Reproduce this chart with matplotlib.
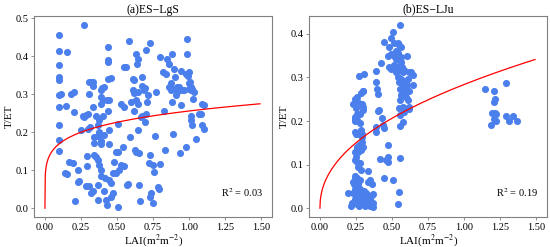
import numpy as np
import matplotlib
matplotlib.use("Agg")
from matplotlib import pyplot as plt

# (a) ES-LgS : LAI vs T/ET
lai_a = [0.10, 0.10, 0.10, 0.10, 0.10, 0.10, 0.10, 0.10, 0.10, 0.10,
         0.113, 0.15, 0.147, 0.136, 0.152, 0.182, 0.20, 0.20, 0.17, 0.193,
         0.209, 0.228, 0.239, 0.232, 0.251, 0.262, 0.274, 0.274, 0.292, 0.292,
         0.301, 0.285, 0.308, 0.320, 0.308, 0.308, 0.285, 0.315, 0.301, 0.331,
         0.331, 0.336, 0.320, 0.331, 0.343, 0.343, 0.343, 0.354, 0.354, 0.366,
         0.377, 0.366, 0.370, 0.389, 0.389, 0.389, 0.377, 0.366, 0.377, 0.370,
         0.389, 0.389, 0.389, 0.389, 0.396, 0.407, 0.400, 0.400, 0.412, 0.416,
         0.412, 0.423, 0.430, 0.435, 0.430, 0.435, 0.435, 0.435, 0.439, 0.458,
         0.446, 0.446, 0.442, 0.446, 0.458, 0.458, 0.469, 0.481, 0.492, 0.469,
         0.492, 0.504, 0.504, 0.504, 0.515, 0.527, 0.527, 0.538, 0.545, 0.550,
         0.550, 0.561, 0.568, 0.573, 0.584, 0.591, 0.596, 0.607, 0.614, 0.607,
         0.619, 0.619, 0.626, 0.630, 0.630, 0.635, 0.642, 0.630, 0.642, 0.642,
         0.642, 0.653, 0.653, 0.660, 0.665, 0.676, 0.676, 0.676, 0.688, 0.692,
         0.692, 0.699, 0.699, 0.706, 0.711, 0.722, 0.729, 0.729, 0.729, 0.738,
         0.748, 0.752, 0.757, 0.761, 0.768, 0.780, 0.787, 0.798, 0.798, 0.817,
         0.826, 0.835, 0.842, 0.849, 0.860, 0.860, 0.872, 0.872, 0.883, 0.883,
         0.883, 0.888, 0.895, 0.902, 0.906, 0.918, 0.918, 0.929, 0.934, 0.945,
         0.941, 0.952, 0.964, 0.975, 0.980, 0.987, 0.987, 0.991, 0.998, 1.001,
         1.005, 1.001, 1.010, 1.005, 1.010, 1.010, 1.014, 1.021, 1.021, 1.033,
         1.028, 1.044, 1.067, 1.079, 1.090, 1.102, 1.090, 1.102]
tet_a = [0.455, 0.413, 0.377, 0.345, 0.338, 0.297, 0.267, 0.218, 0.179, 0.150,
         0.300, 0.410, 0.268, 0.092, 0.089, 0.300, 0.307, 0.253, 0.122, 0.120,
         0.018, 0.100, 0.072, 0.070, 0.205, 0.244, 0.241, 0.483, 0.137, 0.112,
         0.248, 0.246, 0.332, 0.333, 0.300, 0.058, 0.058, 0.214, 0.208, 0.332,
         0.322, 0.266, 0.041, 0.046, 0.188, 0.171, 0.141, 0.135, 0.244, 0.127,
         0.113, 0.061, 0.022, 0.310, 0.293, 0.275, 0.231, 0.218, 0.200, 0.190,
         0.168, 0.178, 0.100, 0.085, 0.316, 0.320, 0.285, 0.244, 0.192, 0.080,
         0.044, 0.022, 0.009, 0.257, 0.284, 0.424, 0.390, 0.385, 0.340, 0.342,
         0.284, 0.205, 0.170, 0.074, 0.065, 0.030, 0.040, 0.122, 0.092, 0.092,
         0.148, 0.148, 0.222, 0.004, 0.100, 0.113, 0.273, 0.161, 0.111, 0.266,
         0.371, 0.371, 0.061, 0.064, 0.439, 0.188, 0.280, 0.340, 0.338, 0.312,
         0.304, 0.257, 0.153, 0.149, 0.406, 0.380, 0.393, 0.285, 0.305, 0.205,
         0.274, 0.144, 0.061, 0.020, 0.240, 0.244, 0.345, 0.323, 0.310, 0.317,
         0.227, 0.249, 0.416, 0.280, 0.297, 0.120, 0.436, 0.030, 0.140, 0.041,
         0.013, 0.115, 0.094, 0.190, 0.305, 0.057, 0.051, 0.116, 0.397, 0.358,
         0.257, 0.153, 0.352, 0.393, 0.380, 0.320, 0.329, 0.310, 0.314, 0.280,
         0.406, 0.196, 0.366, 0.345, 0.297, 0.305, 0.320, 0.320, 0.144, 0.362,
         0.272, 0.310, 0.310, 0.353, 0.161, 0.445, 0.406, 0.349, 0.358, 0.330,
         0.317, 0.314, 0.310, 0.333, 0.320, 0.244, 0.231, 0.218, 0.314, 0.307,
         0.287, 0.183, 0.249, 0.249, 0.275, 0.272, 0.218, 0.208]

# (b) ES-LJu
lai_b = [0.193, 0.216, 0.225, 0.232, 0.235, 0.24, 0.24, 0.245, 0.25, 0.25,
         0.255, 0.26, 0.26, 0.265, 0.268, 0.27, 0.275, 0.28, 0.285, 0.29,
         0.295, 0.30, 0.305, 0.31, 0.315, 0.32, 0.325, 0.33, 0.335, 0.34,
         0.345, 0.35, 0.35, 0.355, 0.36, 0.36, 0.365, 0.37, 0.37, 0.24,
         0.23, 0.255,
         0.228, 0.25, 0.245, 0.255, 0.26, 0.24, 0.243, 0.25, 0.26, 0.24,
         0.269, 0.308, 0.285, 0.297, 0.245, 0.25, 0.24, 0.245, 0.26, 0.258,
         0.252, 0.262, 0.255, 0.262, 0.27, 0.265, 0.26, 0.28, 0.285, 0.29,
         0.28, 0.285, 0.29, 0.283, 0.283, 0.292, 0.28, 0.282, 0.293, 0.295,
         0.298, 0.30, 0.298, 0.39, 0.389, 0.395, 0.40, 0.412, 0.40, 0.435,
         0.430, 0.389, 0.389, 0.419, 0.442, 0.458, 0.469, 0.469, 0.469, 0.442,
         0.426, 0.446,
         0.557, 0.508, 0.492, 0.515, 0.538, 0.550, 0.561, 0.481, 0.527, 0.538,
         0.492, 0.515, 0.527, 0.550, 0.561, 0.469, 0.476, 0.492, 0.515, 0.538,
         0.550, 0.568, 0.603, 0.527, 0.555, 0.573, 0.584, 0.619, 0.630, 0.642,
         0.642, 0.538, 0.561, 0.584, 0.607, 0.550, 0.573, 0.596, 0.555, 0.584,
         0.614, 0.561, 0.596, 0.607, 0.555, 0.573, 0.619, 0.614, 0.545, 0.555,
         0.584, 0.573, 0.555, 0.555, 0.545, 0.538, 0.504, 0.580, 0.600, 0.565,
         1.141, 1.205, 1.210, 1.205, 1.194, 1.210, 1.217, 1.205, 1.217, 1.187,
         1.290, 1.286, 1.309, 1.337, 1.364]
tet_b = [0.036, 0.005, 0.012, 0.035, 0.055, 0.068, 0.075, 0.045, 0.062, 0.025,
         0.010, 0.040, 0.070, 0.055, 0.028, 0.005, 0.065, 0.045, 0.015, 0.035,
         0.010, 0.030, 0.040, 0.020, 0.005, 0.035, 0.012, 0.060, 0.085, 0.028,
         0.005, 0.065, 0.020, 0.010, 0.055, 0.030, 0.002, 0.032, 0.012, 0.020,
         0.060, 0.035,
         0.240, 0.230, 0.250, 0.255, 0.245, 0.210, 0.130, 0.118, 0.140, 0.110,
         0.303, 0.309, 0.265, 0.270, 0.175, 0.210, 0.205, 0.200, 0.203, 0.215,
         0.171, 0.171, 0.135, 0.130, 0.145, 0.095, 0.105, 0.217, 0.240, 0.240,
         0.195, 0.180, 0.164, 0.133, 0.148, 0.152, 0.103, 0.088, 0.171, 0.232,
         0.140, 0.225, 0.270, 0.314, 0.290, 0.274, 0.262, 0.225, 0.222, 0.190,
         0.206, 0.175, 0.186, 0.114, 0.183, 0.110, 0.118, 0.107, 0.145, 0.069,
         0.333, 0.381,
         0.421, 0.404, 0.390, 0.380, 0.380, 0.375, 0.370, 0.370, 0.360, 0.356,
         0.354, 0.350, 0.343, 0.339, 0.346, 0.350, 0.324, 0.320, 0.328, 0.324,
         0.320, 0.324, 0.350, 0.312, 0.316, 0.312, 0.316, 0.312, 0.312, 0.305,
         0.282, 0.300, 0.297, 0.293, 0.297, 0.290, 0.282, 0.278, 0.274, 0.266,
         0.270, 0.260, 0.255, 0.248, 0.248, 0.232, 0.232, 0.227, 0.229, 0.213,
         0.221, 0.198, 0.188, 0.116, 0.038, 0.010, 0.065, 0.263, 0.283, 0.335,
         0.274, 0.269, 0.251, 0.244, 0.219, 0.219, 0.217, 0.204, 0.200, 0.190,
         0.288, 0.211, 0.200, 0.211, 0.200]

# power-law fits  y = a * x**b
fit_a = (0.256, 0.178)
fit_b = (0.284, 0.46)

panels = [
    ("(a)ES\u2212LgS", lai_a, tet_a, fit_a, "0.03"),
    ("(b)ES\u2212LJu", lai_b, tet_b, fit_b, "0.19"),
]

plt.rcParams["font.family"] = ["Liberation Serif", "DejaVu Serif"]
plt.rcParams["mathtext.fontset"] = "stix"

fig = plt.figure(figsize=(5.5, 2.47), dpi=100)
lefts = [0.062, 0.562]

for left, (title, x, y, (a, b), r2) in zip(lefts, panels):
    ax = fig.add_axes([left, 0.12, 0.433, 0.817])
    ax.scatter(x, y, s=26, color="#4a7fec", linewidths=0, zorder=2)
    xf = np.linspace(0, 1.49, 600)
    ax.plot(xf, a * xf ** b, color="red", lw=0.9, zorder=3)
    ax.set_xticks([0.0, 0.25, 0.5, 0.75, 1.0, 1.25, 1.5])
    ax.set_xticklabels(["0.00", "0.25", "0.50", "0.75", "1.00", "1.25", "1.50"])
    ax.set_xlim(-0.075, 1.575)
    ax.set_title(title, fontsize=8.5, pad=1.5)
    ax.set_xlabel("LAI(m$^2$m$^{-2}$)", fontsize=8, labelpad=0)
    ax.set_ylabel("T/ET", fontsize=8, labelpad=1.5)
    ax.tick_params(labelsize=7.5, length=2.5, width=0.6, color="#808080", pad=1.5)
    for sp in ax.spines.values():
        sp.set_color("#808080")
        sp.set_linewidth(0.8)
    ax.text(0.96, 0.125, "R$^2$ = " + r2, transform=ax.transAxes,
            ha="right", va="center", fontsize=7.5)

plt.savefig("out.png", dpi=100)
